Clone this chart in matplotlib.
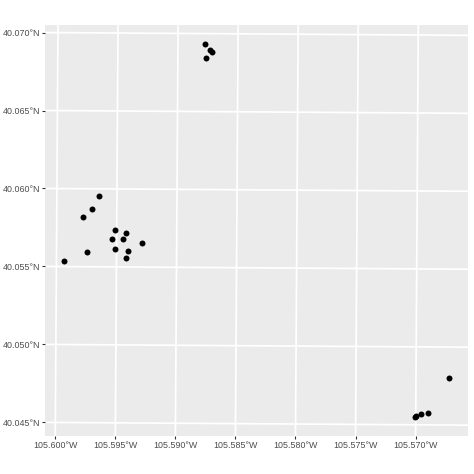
import numpy as np
import matplotlib; matplotlib.use('Agg')
import matplotlib.pyplot as plt

lon = [-105.59648, -105.59710, -105.59785, -105.59513, -105.59422, -105.59538,
       -105.59449, -105.59285, -105.59744, -105.59512, -105.59401, -105.59425,
       -105.59935, -105.58776, -105.58731, -105.58720, -105.58764, -105.56727,
       -105.57007, -105.56996, -105.56960, -105.56902]
lat = [40.05956, 40.05868, 40.05819, 40.05737, 40.05718, 40.05681,
       40.05678, 40.05657, 40.05595, 40.05614, 40.05603, 40.05556,
       40.05537, 40.06934, 40.06896, 40.06885, 40.06842, 40.04803,
       40.04550, 40.04559, 40.04572, 40.04576]

lon_breaks = [-105.600, -105.595, -105.590, -105.585, -105.580, -105.575, -105.570, -105.565]
lat_breaks = [40.040, 40.045, 40.050, 40.055, 40.060, 40.065, 40.070, 40.075]

# rough local transverse-mercator-ish projection (UTM 13N look, with grid convergence)
LON0, LAT0 = -105.585, 40.057
M_LON, M_LAT = 85530.0, 111037.0
GAMMA = np.radians(0.377)

def project(lo, la):
    x = (np.asarray(lo) - LON0) * M_LON
    y = (np.asarray(la) - LAT0) * M_LAT
    return (x * np.cos(GAMMA) + y * np.sin(GAMMA),
            -x * np.sin(GAMMA) + y * np.cos(GAMMA))

E, N = project(lon, lat)
dx = (E.max() - E.min()) * 0.05
dy = (N.max() - N.min()) * 0.05
xlim = (E.min() - dx, E.max() + dx)
ylim = (N.min() - dy, N.max() + dy)

plt.rcParams['font.family'] = ['Liberation Sans', 'DejaVu Sans']

fig = plt.figure(figsize=(4.74, 4.74), dpi=100)
ax = fig.add_axes([45 / 474, (474 - 436.3) / 474, 423 / 474, 411.7 / 474])
ax.set_facecolor('#EBEBEB')

grid_kw = dict(color='white', lw=1.25, zorder=1, solid_capstyle='butt')
xticks, xlabels = [], []
for lb in lon_breaks:
    la_line = np.linspace(40.03, 40.08, 200)
    ge, gn = project(np.full_like(la_line, lb), la_line)
    ax.plot(ge, gn, **grid_kw)
    xb = np.interp(ylim[0], gn, ge)
    if xlim[0] <= xb <= xlim[1]:
        xticks.append(xb)
        xlabels.append(f'{abs(lb):.3f}\u00b0W')

yticks, ylabels = [], []
for lb in lat_breaks:
    lo_line = np.linspace(-105.61, -105.56, 200)
    ge, gn = project(lo_line, np.full_like(lo_line, lb))
    ax.plot(ge, gn, **grid_kw)
    yb = np.interp(xlim[0], ge, gn)
    if ylim[0] <= yb <= ylim[1]:
        yticks.append(yb)
        ylabels.append(f'{lb:.3f}\u00b0N')

ax.plot(E, N, 'o', color='black', ms=4.3, mec='black', mew=0, zorder=3)

ax.set_xlim(*xlim)
ax.set_ylim(*ylim)
ax.set_aspect('equal')
ax.set_xticks(xticks)
ax.set_xticklabels(xlabels)
ax.set_yticks(yticks)
ax.set_yticklabels(ylabels)
ax.tick_params(length=2.0, width=0.8, color='#333333', labelcolor='#4D4D4D',
               labelsize=6.4, pad=1.6)
for s in ax.spines.values():
    s.set_visible(False)

plt.savefig('out.png', dpi=100)
